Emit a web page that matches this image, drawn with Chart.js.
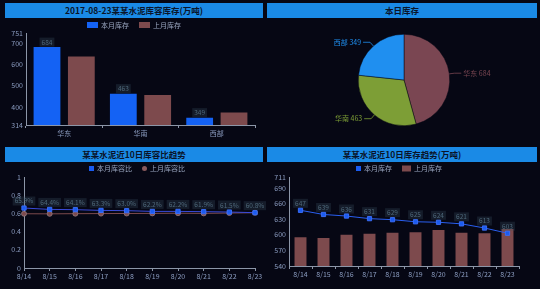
<!DOCTYPE html>
<html><head><meta charset="utf-8">
<script src="https://cdn.jsdelivr.net/npm/chart.js@4.4.0/dist/chart.umd.min.js"></script>
<style>
html,body{margin:0;padding:0;background:#060714;width:540px;height:289px;overflow:hidden;}
.t{position:absolute;height:15px;background:#1a8ae6;color:#0a1428;font:bold 8.5px 'Noto Sans CJK SC',sans-serif;line-height:15px;text-align:center;}
.c{position:absolute;}
</style></head><body>
<div class="t" style="left:5px;top:3px;width:258px">2017-08-23某某水泥库容库存(万吨)</div>
<div class="t" style="left:267px;top:3px;width:270px">本日库存</div>
<div class="t" style="left:5px;top:147px;width:258px">某某水泥近10日库容比趋势</div>
<div class="t" style="left:267px;top:147px;width:270px">某某水泥近10日库存趋势(万吨)</div>
<div class="c" style="left:0;top:18px;width:266px;height:126px"><canvas id="c1" width="266" height="126"></canvas></div>
<div class="c" style="left:266px;top:18px;width:274px;height:126px"><canvas id="c2" width="274" height="126"></canvas></div>
<div class="c" style="left:0;top:162px;width:266px;height:127px"><canvas id="c3" width="266" height="127"></canvas></div>
<div class="c" style="left:266px;top:162px;width:274px;height:127px"><canvas id="c4" width="274" height="127"></canvas></div>
<script>
// ---- data ----
const regions = ['华东', '华南', '西部'];
const stockThisMonth = [684, 463, 349];
const stockLastMonth = [639, 457, 373];
const stockTicks = [314, 400, 500, 600, 700, 751];

const pieLabels = ['华东', '华南', '西部'];
const pieValues = [684, 463, 349];

const dates = ['8/14', '8/15', '8/16', '8/17', '8/18', '8/19', '8/20', '8/21', '8/22', '8/23'];
const ratioThisMonth = [0.659, 0.644, 0.641, 0.633, 0.630, 0.622, 0.622, 0.619, 0.615, 0.608];
const ratioLastMonth = [0.596, 0.595, 0.597, 0.598, 0.599, 0.600, 0.602, 0.600, 0.604, 0.607];
const ratioTicks = [0, 0.2, 0.4, 0.6, 0.8, 1];

const trendThisMonth = [647, 639, 636, 631, 629, 625, 624, 621, 613, 603];
const trendLastMonth = [595, 594, 600, 602, 604, 605, 609, 604, 603, 611];
const trendTicks = [540, 570, 600, 630, 660, 690, 711];

// ---- styles ----
const FONT = "'Noto Sans CJK SC', 'DejaVu Sans', sans-serif";
const BLUE = '#1462f4', BROWN = '#7d4a4d', AXIS = '#8c96a8', TICK = '#8b9cc0';
Chart.defaults.font.family = FONT;
Chart.defaults.animation = false;

const miniLegend = {
  id: 'miniLegend',
  afterDraw(chart, args, o) {
    const ctx = chart.ctx; ctx.save();
    ctx.font = '7px ' + FONT; ctx.textBaseline = 'middle';
    const items = chart.data.datasets.map((ds, i) => ({ text: ds.label, color: o.colors[i], m: o.markers[i] }));
    const gap = o.gap, tg = 3; let total = 0;
    items.forEach(it => { it.tw = ctx.measureText(it.text).width; it.w = it.m.w + tg + it.tw; total += it.w; });
    total += gap * (items.length - 1);
    let x = o.cx - total / 2; const y = o.y;
    items.forEach(it => {
      ctx.fillStyle = it.color;
      if (it.m.type === 'circle') { ctx.beginPath(); ctx.arc(x + it.m.w / 2, y, it.m.w / 2, 0, Math.PI * 2); ctx.fill(); }
      else ctx.fillRect(x, y - it.m.h / 2, it.m.w, it.m.h);
      ctx.fillStyle = '#9aa6bf'; ctx.fillText(it.text, x + it.m.w + tg, y);
      x += it.w + gap;
    });
    ctx.restore();
  }
};

const valueLabels = {
  id: 'valueLabels',
  afterDatasetsDraw(chart, args, o) {
    const ctx = chart.ctx; ctx.save();
    ctx.font = '6.5px ' + FONT; ctx.textBaseline = 'middle'; ctx.textAlign = 'center';
    const meta = chart.getDatasetMeta(o.ds); const data = chart.data.datasets[o.ds].data;
    meta.data.forEach((el, i) => {
      const t = o.fmt(data[i]); const w = ctx.measureText(t).width + 4;
      const y = el.y - o.dy;
      ctx.fillStyle = 'rgba(55,80,95,0.3)'; ctx.fillRect(el.x - w / 2, y - 4.5, w, 9);
      ctx.fillStyle = '#4f687a'; ctx.fillText(t, el.x, y);
    });
    ctx.restore();
  }
};

const pieLabelPlugin = {
  id: 'pieLabels',
  afterDraw(chart) {
    const ctx = chart.ctx; ctx.save();
    ctx.font = '7px ' + FONT; ctx.textBaseline = 'middle';
    const meta = chart.getDatasetMeta(0); const ds = chart.data.datasets[0];
    meta.data.forEach((arc, i) => {
      const mid = (arc.startAngle + arc.endAngle) / 2; const r = arc.outerRadius;
      const cx = Math.cos(mid), cy = Math.sin(mid);
      const p1 = [arc.x + cx * r, arc.y + cy * r];
      const p2 = [arc.x + cx * (r + 5), arc.y + cy * (r + 5)];
      const dir = cx >= 0 ? 1 : -1;
      const p3 = [p2[0] + dir * 7, p2[1]];
      const col = ds.backgroundColor[i];
      ctx.strokeStyle = col; ctx.lineWidth = 0.8;
      ctx.beginPath(); ctx.moveTo(p1[0], p1[1]); ctx.lineTo(p2[0], p2[1]); ctx.lineTo(p3[0], p3[1]); ctx.stroke();
      ctx.fillStyle = col; ctx.textAlign = dir > 0 ? 'left' : 'right';
      ctx.fillText(chart.data.labels[i] + ' ' + ds.data[i], p3[0] + dir * 2, p3[1]);
    });
    ctx.restore();
  }
};

function yScale(min, max, ticks, width) {
  return {
    min, max,
    afterBuildTicks: s => { s.ticks = ticks.map(v => ({ value: v })); },
    afterFit: s => { s.width = width; },
    grid: { drawOnChartArea: false, drawTicks: false },
    border: { display: true, color: AXIS, width: 1 },
    ticks: { color: TICK, font: { size: 7 }, padding: 3, callback: v => String(+Number(v).toFixed(2)) }
  };
}
function xScale(height, offset) {
  return {
    offset,
    afterFit: s => { s.height = height; },
    grid: { drawOnChartArea: false, drawTicks: true, tickLength: 3, color: AXIS, offset },
    border: { display: true, color: AXIS, width: 1 },
    ticks: { color: TICK, font: { size: 7 }, padding: 1, maxRotation: 0, autoSkip: false }
  };
}

// ---- chart 1: bars ----
new Chart(document.getElementById('c1'), {
  type: 'bar',
  data: { labels: regions, datasets: [
    { label: '本月库存', data: stockThisMonth, backgroundColor: BLUE, categoryPercentage: 0.9, barPercentage: 0.78 },
    { label: '上月库存', data: stockLastMonth, backgroundColor: BROWN, categoryPercentage: 0.9, barPercentage: 0.78 }
  ] },
  options: {
    responsive: false,
    layout: { padding: { top: 15, right: 11, left: 0, bottom: 0 } },
    scales: { x: xScale(19, true), y: yScale(314, 751, stockTicks, 26) },
    plugins: {
      legend: { display: false }, tooltip: { enabled: false },
      miniLegend: { y: 7, cx: 134, gap: 10, colors: [BLUE, BROWN], markers: [{ type: 'rect', w: 11, h: 6 }, { type: 'rect', w: 11, h: 6 }] },
      valueLabels: { ds: 0, dy: 5, fmt: v => String(v) }
    }
  },
  plugins: [miniLegend, valueLabels]
});

// ---- chart 2: pie ----
new Chart(document.getElementById('c2'), {
  type: 'pie',
  data: { labels: pieLabels, datasets: [{ data: pieValues, backgroundColor: ['#7a4652', '#7d9e36', '#1f8ff0'], borderColor: '#060714', borderWidth: 0.5 }] },
  options: {
    responsive: false,
    layout: { padding: { top: 16, bottom: 18, left: 70, right: 68 } },
    plugins: { legend: { display: false }, tooltip: { enabled: false } }
  },
  plugins: [pieLabelPlugin]
});

// ---- chart 3: ratio lines ----
new Chart(document.getElementById('c3'), {
  type: 'line',
  data: { labels: dates, datasets: [
    { label: '本月库容比', data: ratioThisMonth, borderColor: '#3a4ad8', borderWidth: 1, pointStyle: 'rect', pointRadius: 3, pointBackgroundColor: '#1a5cf0', pointBorderColor: '#3b6cf5', pointBorderWidth: 1 },
    { label: '上月库容比', data: ratioLastMonth, borderColor: '#7d4a4d', borderWidth: 1, pointStyle: 'circle', pointRadius: 2.5, pointBackgroundColor: '#7d4a4d', pointBorderColor: '#8f7a80', pointBorderWidth: 0.8 }
  ] },
  options: {
    responsive: false,
    layout: { padding: { top: 15, right: 11, left: 0, bottom: 0 } },
    scales: { x: xScale(21, false), y: yScale(0, 1, ratioTicks, 24) },
    plugins: {
      legend: { display: false }, tooltip: { enabled: false },
      miniLegend: { y: 6.5, cx: 137, gap: 10, colors: ['#1a5cf0', '#8a5a5c'], markers: [{ type: 'rect', w: 5, h: 5 }, { type: 'circle', w: 5, h: 5 }] },
      valueLabels: { ds: 0, dy: 7, fmt: v => (v * 100).toFixed(1) + '%' }
    }
  },
  plugins: [miniLegend, valueLabels]
});

// ---- chart 4: trend combo ----
new Chart(document.getElementById('c4'), {
  type: 'bar',
  data: { labels: dates, datasets: [
    { type: 'line', label: '本月库存', data: trendThisMonth, borderColor: '#2a5ff0', borderWidth: 1, pointStyle: 'rect', pointRadius: 3, pointBackgroundColor: '#1a5cf0', pointBorderColor: '#3b6cf5', order: 0 },
    { type: 'bar', label: '上月库存', data: trendLastMonth, backgroundColor: BROWN, barPercentage: 0.52, categoryPercentage: 1, order: 1 }
  ] },
  options: {
    responsive: false,
    layout: { padding: { top: 15, right: 21, left: 0, bottom: 0 } },
    scales: { x: xScale(23, true), y: yScale(540, 711, trendTicks, 23) },
    plugins: {
      legend: { display: false }, tooltip: { enabled: false },
      miniLegend: { y: 6.5, cx: 133, gap: 10, colors: ['#1a5cf0', BROWN], markers: [{ type: 'rect', w: 5, h: 5 }, { type: 'rect', w: 9, h: 6 }] },
      valueLabels: { ds: 0, dy: 7, fmt: v => String(v) }
    }
  },
  plugins: [miniLegend, valueLabels]
});
</script>
</body></html>
